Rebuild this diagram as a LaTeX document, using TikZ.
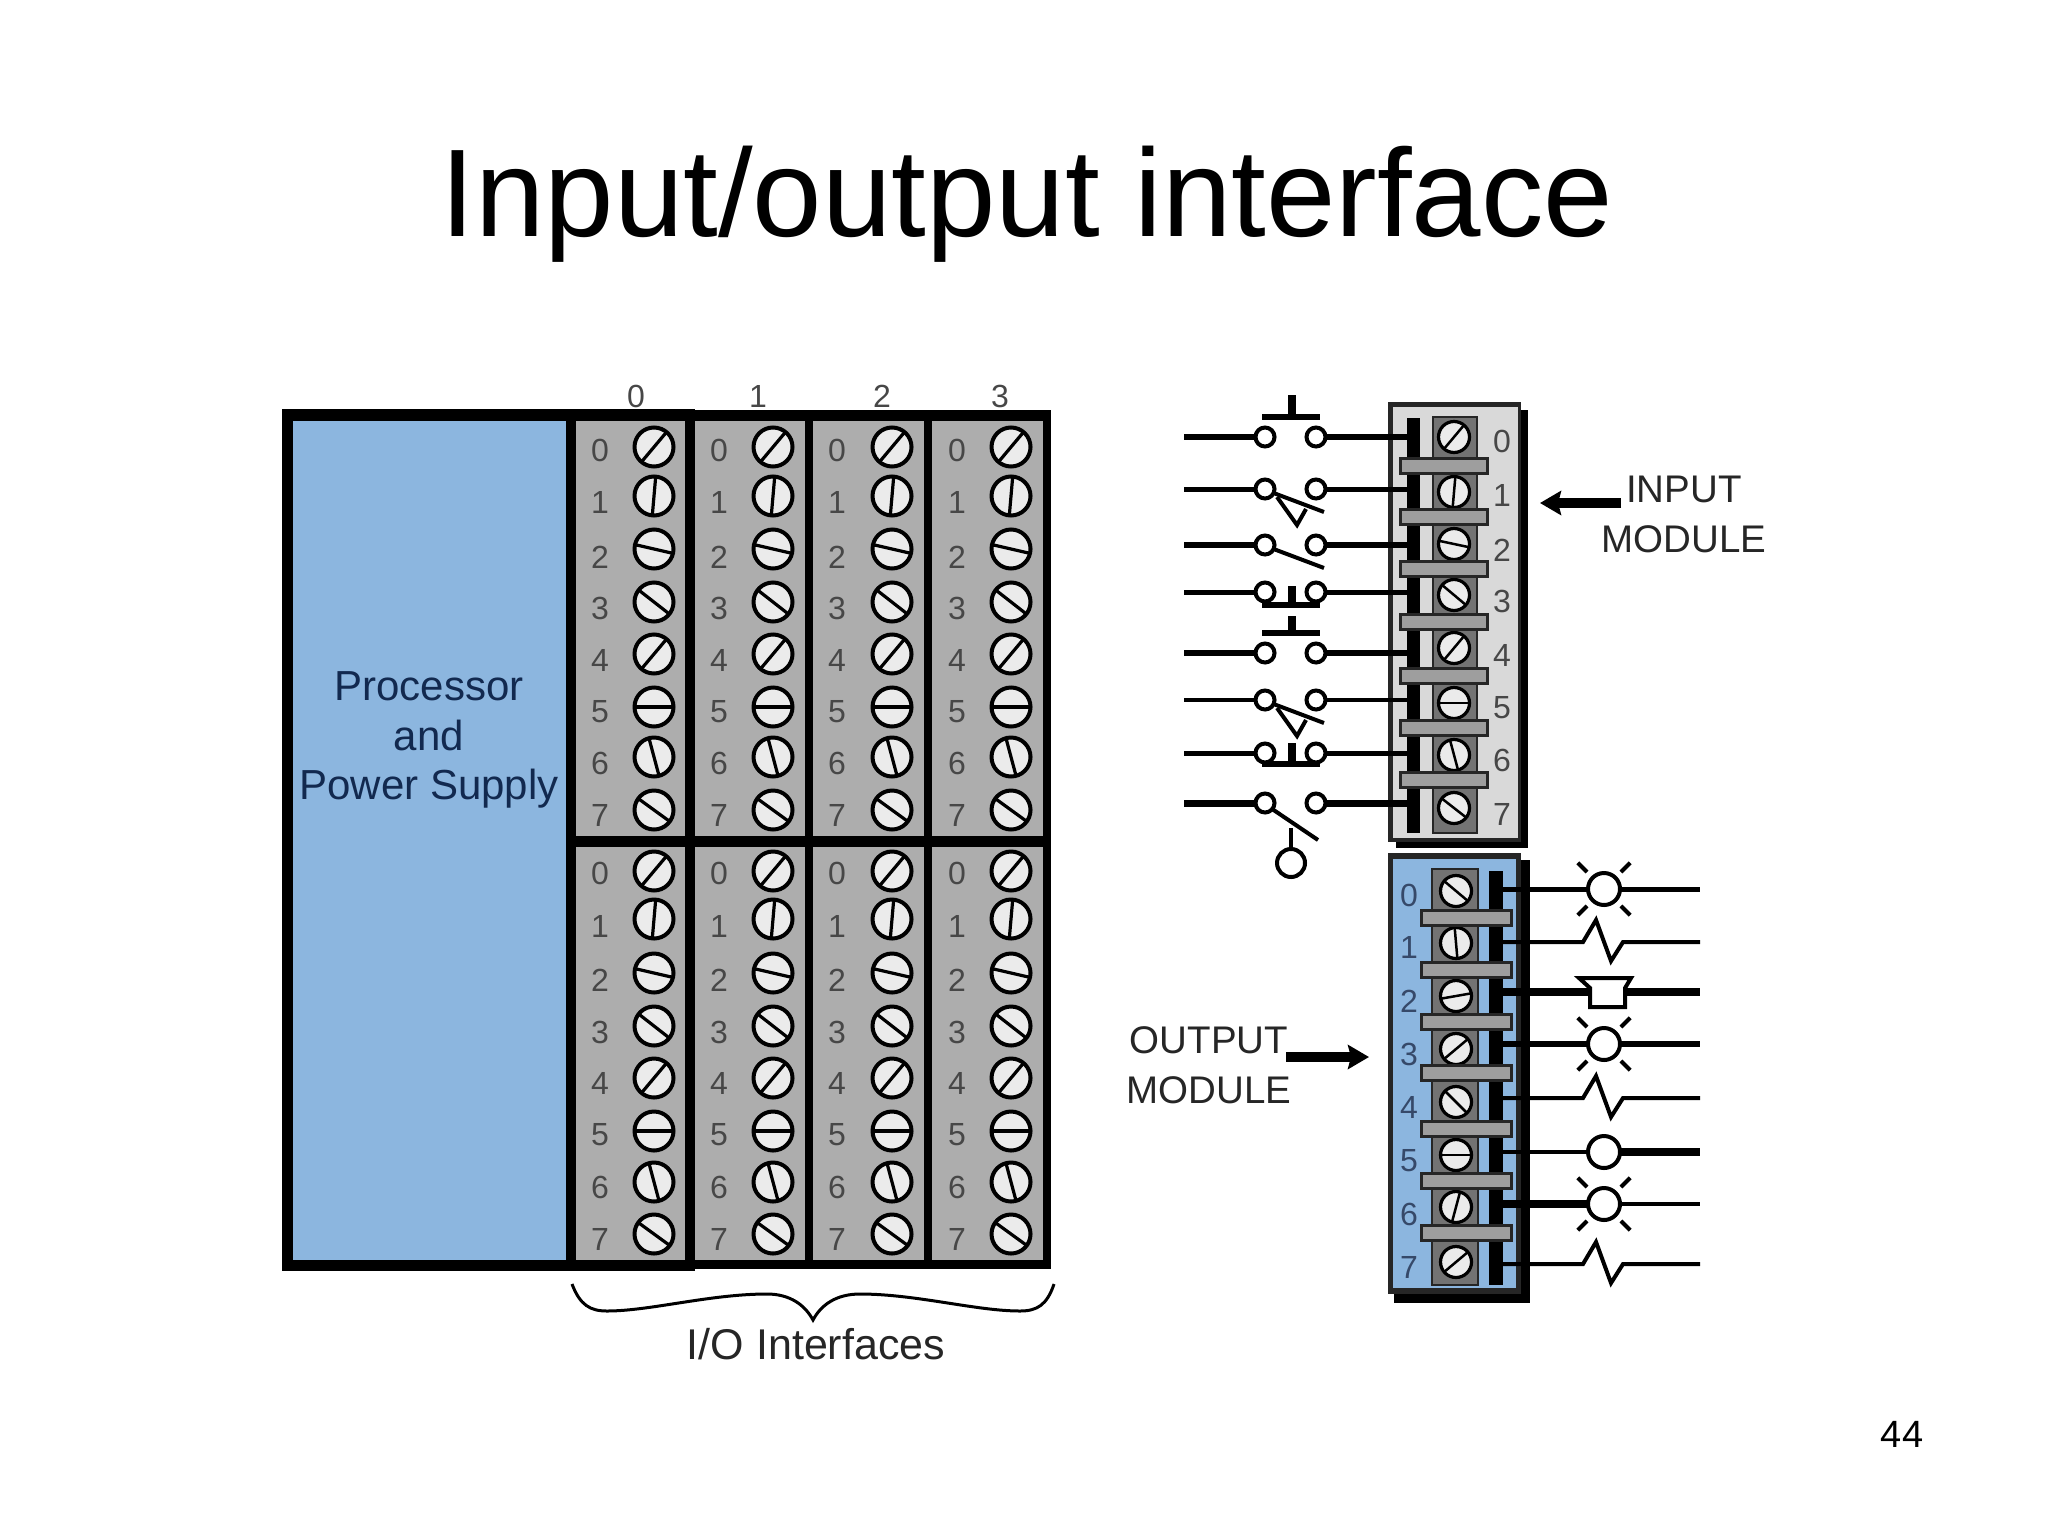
\documentclass[tikz,border=0pt]{standalone}
\usepackage{fontspec}
\setmainfont{Liberation Sans}
\usetikzlibrary{calc,positioning,arrows.meta}

\definecolor{modblue}{HTML}{8CB6DF}
\definecolor{cellgray}{HTML}{ADADAD}
\definecolor{modgray}{HTML}{D9D9D9}
\definecolor{navy}{HTML}{12294F}

\tikzset{
  digit/.style={font=\fontsize{16}{18}\selectfont, text=black!72, inner sep=0pt},
  label/.style={font=\fontsize{19.25}{25}\selectfont, text=black!85, align=center, inner sep=0pt},
  screw/.style={circle, draw=black, fill=black!8, line width=2pt, minimum size=19.5pt, inner sep=0pt, outer sep=0pt},
  smallscrew/.style={screw, line width=1.6pt, minimum size=15.5pt},
  slot/.style={line width=1.6pt},
  smallslot/.style={line width=1.25pt},
  term/.style={circle, draw=black, fill=white, line width=2pt, minimum size=9.5pt, inner sep=0pt, outer sep=0pt},
  lamp/.style={term, line width=2pt, minimum size=16pt},
  arm/.style={line width=2pt},
  ray/.style={line width=2pt},
  sep/.style={draw=black!85, fill=black!38, line width=1.5pt},
  fatarrow/.style={line width=5pt, -{Stealth[length=10.5pt,width=12pt,inset=1.5pt]}}
}

\def\toprow{0/447/450/50,1/496/502/85,2/549/557/-13,3/602/608/-38,4/654/660/50,5/707/712/0,6/757/763/-75,7/810/815/-36}
\def\botrow{0/871/873/50,1/919/926/85,2/973/980/-13,3/1026/1032/-38,4/1078/1083/50,5/1131/1135/0,6/1182/1187/-75,7/1234/1239/-36}

\begin{document}
\begin{tikzpicture}[x=0.5pt, y=-0.5pt]
  \useasboundingbox (0,0) rectangle (2048,1536);

  % Title and page number
  \node[anchor=base, font=\fontsize{62.4}{70}\selectfont] (title) at (1027,236) {Input/output interface};
  \node[anchor=base, font=\fontsize{19}{22}\selectfont] (page) at (1902,1447) {44};

  % Rack frame
  \fill[black] (282,410) rectangle (1051,1269);
  \fill[black] (282,409) rectangle (695,1271);
  \fill[modblue] (293,421) rectangle (566,1260);
  \node[font=\fontsize{21}{24.75}\selectfont, text=navy, align=center, inner sep=0pt] (cpu) at (429,740) {Processor\\and\\Power Supply};

  % Grey cells
  \foreach \xa/\xb in {576/685,695/805,813/924,932/1043}{
    \fill[cellgray] (\xa,421) rectangle (\xb,836);
    \fill[cellgray] (\xa,847) rectangle (\xb,1260);
  }

  % Column headers
  \foreach \c/\hx in {0/636,1/758,2/882,3/1000}{
    \node[digit] (h\c) at (\hx,396) {\c};
  }

  % Screws and their numbers
  \foreach \sx/\nx [count=\c] in {654/600,773/719,892/837,1011/957}{
    \foreach \r/\sy/\ny/\a in \toprow{
      \node[digit] (tn\c\r) at (\nx,\ny) {\r};
      \node[screw] (ts\c\r) at (\sx,\sy) {};
      \draw[slot] (ts\c\r.\a) -- (ts\c\r.\a+180);
    }
    \foreach \r/\sy/\ny/\a in \botrow{
      \node[digit] (bn\c\r) at (\nx,\ny) {\r};
      \node[screw] (bs\c\r) at (\sx,\sy) {};
      \draw[slot] (bs\c\r.\a) -- (bs\c\r.\a+180);
    }
  }

  % Brace under the interfaces
  \draw[line width=1.5pt] (572,1284) .. controls (580,1305) and (590,1311) .. (607,1311)
    .. controls (650,1311) and (710,1294) .. (767,1294)
    .. controls (790,1294) and (805,1305) .. (813,1320)
    .. controls (821,1305) and (836,1294) .. (860,1294)
    .. controls (916,1294) and (976,1311) .. (1020,1311)
    .. controls (1037,1311) and (1047,1305) .. (1054,1284);
  \node[anchor=base, font=\fontsize{21.5}{24}\selectfont, text=black!85] (io) at (816,1359) {I/O Interfaces};

  % Input module
  \fill[black] (1396,410) rectangle (1528,848);
  \fill[black!85] (1388,402) rectangle (1521,842);
  \fill[modgray] (1393,407) rectangle (1518,838);
  \fill[black] (1407,418) rectangle (1420,833);
  \draw[draw=black!85, fill=black!55, line width=1pt] (1433,417) rectangle (1477,833);
  \foreach \r/\sy/\ny/\a in {0/437/441/50,1/492/495/85,2/544/550/-12,3/595/601/-40,4/648/655/50,5/703/708/0,6/755/760/-75,7/808/814/-38}{
    \node[smallscrew] (is\r) at (1454,\sy) {};
    \draw[smallslot] (is\r.\a) -- (is\r.\a+180);
    \node[digit] (in\r) at (1502,\ny) {\r};
  }
  \foreach \y in {466,517,569,622,676,728,780}{
    \draw[sep] (1400,\y-7.5) rectangle (1487,\y+7.5);
  }

  % Input wires and terminals
  \foreach \i/\y/\w in {0/437/2.75,1/489/2.5,2/545/2.75,3/592/2.5,4/653/3,5/700/2,6/753/2.5,7/803/3.5}{
    \coordinate (iw\i) at (1184,\y);
    \coordinate (ib\i) at (1407,\y);
    \node[term] (tl\i) at (1265,\y) {};
    \node[term] (tr\i) at (1316,\y) {};
    \draw[line width=\w pt] (iw\i) -- (tl\i);
    \draw[line width=\w pt] (tr\i) -- (ib\i);
  }

  % Push buttons, open
  \foreach \i/\up in {0/42,4/37}{
    \draw[line width=3pt] ($(tl\i)+(-3,-20)$) -- ($(tl\i)+(55,-20)$);
    \draw[line width=4pt] ($(tl\i)+(27,-20)$) -- ($(tl\i)+(27,-\up)$);
  }
  % Push buttons, closed
  \foreach \i/\dn/\up in {3/13/6,6/11/10}{
    \draw[line width=3.25pt] ($(tl\i)+(-3,\dn)$) -- ($(tl\i)+(55,\dn)$);
    \draw[line width=4pt] ($(tl\i)+(27,\dn)$) -- ($(tl\i)+(27,-\up)$);
  }
  % Arms with a triangle
  \foreach \i in {1,5}{
    \draw[arm] (tl\i.-25) -- ($(tl\i)+(59,23)$);
    \draw[arm] ($(tl\i)+(12,8)$) -- ($(tl\i)+(32,36)$) -- ($(tl\i)+(41,20)$);
  }
  \draw[arm] (tl2.-25) -- ($(tl2)+(59,23)$);
  % Arm with float
  \draw[arm] (tl7.-40) -- ($(tl7)+(53,37)$);
  \node[term, minimum size=14pt] (flt) at (1291,863) {};
  \draw[arm] ($(tl7)+(26,25)$) -- (flt);

  % Input label
  \coordinate (ia) at (1621,503);
  \coordinate (ib) at (1540,503);
  \draw[fatarrow] (ia) -- (ib);
  \node[label] (inlabel) at (1684,514) {INPUT\\MODULE};

  % Output module
  \fill[black] (1394,860) rectangle (1530,1303);
  \fill[black!85] (1388,853) rectangle (1521,1294);
  \fill[modblue] (1393,859) rectangle (1516,1288);
  \fill[black] (1489,871) rectangle (1503,1285);
  \draw[draw=black!85, fill=black!55, line width=1pt] (1432,869) rectangle (1478,1285);
  \foreach \r/\sy/\ny/\a in {0/891/895/-40,1/943/947/-85,2/996/1001/10,3/1049/1054/40,4/1102/1107/-45,5/1155/1161/0,6/1207/1214/75,7/1262/1267/40}{
    \node[smallscrew] (os\r) at (1456,\sy) {};
    \draw[smallslot] (os\r.\a) -- (os\r.\a+180);
    \node[digit, text=navy!85] (on\r) at (1409,\ny) {\r};
  }
  \foreach \y in {918,970,1022,1073,1129,1181,1233}{
    \draw[sep] (1421,\y-7.5) rectangle (1511,\y+7.5);
  }

  % Lamps
  \foreach \i/\y/\wl/\wr in {0/889/2.5/2.5,3/1044/3/3,5/1152/2/4,6/1204/4/2}{
    \coordinate (ob\i) at (1503,\y);
    \coordinate (oe\i) at (1700,\y);
    \node[lamp] (l\i) at (1604,\y) {};
    \draw[line width=\wl pt] (ob\i) -- (l\i);
    \draw[line width=\wr pt] (l\i) -- (oe\i);
  }
  \foreach \i in {0,3,6}{
    \foreach \a in {45,135,225,315}{
      \draw[ray] ($(l\i)+(\a:12pt)$) -- ($(l\i)+(\a:18.5pt)$);
    }
  }
  % Heaters
  \foreach \i/\y in {1/942,4/1098,7/1264}{
    \coordinate (ob\i) at (1503,\y);
    \coordinate (oe\i) at (1700,\y);
    \draw[line width=2pt] (ob\i) -- (1583,\y) -- (1596,\y-22) -- (1611,\y+19) -- (1623,\y) -- (oe\i);
  }
  % Horn
  \coordinate (ob2) at (1503,992);
  \coordinate (oe2) at (1700,992);
  \coordinate (hl) at (1590,992);
  \coordinate (hr) at (1625,992);
  \draw[line width=4pt] (ob2) -- (hl);
  \draw[line width=4pt] (hr) -- (oe2);
  \draw[line width=2pt, fill=white] (1579,978) -- (1631,978) -- (1625,988) -- (1625,1007) -- (1590,1007) -- (1590,988) -- cycle;

  % Output label
  \coordinate (oa) at (1286,1057);
  \coordinate (ob) at (1369,1057);
  \draw[fatarrow] (oa) -- (ob);
  \node[label] (outlabel) at (1209,1065) {OUTPUT\\MODULE};
\end{tikzpicture}
\end{document}
